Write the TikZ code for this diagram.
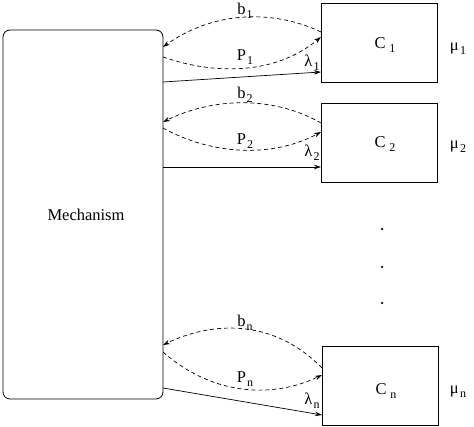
\documentclass[tikz,border=0pt]{standalone}
\usepackage{fontspec}
\setmainfont{Liberation Serif}
\usetikzlibrary{arrows.meta}
\newcommand{\sbs}[1]{\kern1.2pt\raisebox{-0.55ex}{\fontsize{12}{12}\selectfont #1}}
\begin{document}
\begin{tikzpicture}[x=1pt,y=-1pt,
  box/.style={draw,line width=0.8pt,minimum width=116pt,minimum height=79pt,inner sep=0pt},
  lbl/.style={font=\fontsize{16.5}{16.5}\selectfont,inner sep=0pt},
  conn/.style={line width=0.7pt,-{Stealth[length=7pt,width=4.5pt]}},
  dsh/.style={conn,dash pattern=on 4pt off 3pt},
  dotnode/.style={circle,fill,inner sep=0pt,minimum size=2.5pt}]
\useasboundingbox (0,0) rectangle (474,427);
% Mechanism
\node[draw,line width=0.8pt,rounded corners=7pt,minimum width=160pt,minimum height=369pt,inner sep=0pt] (M) at (83,214.5) {};
\node[lbl] (Mt) at (86,215) {Mechanism};
% C boxes
\node[box] (C1) at (379,42.5) {};
\node[box] (C2) at (379,142.5) {};
\node[box] (Cn) at (380,385.5) {};
\node[lbl] (C1t) at (385,45) {C\,\sbs{1}};
\node[lbl] (C2t) at (385,144) {C\,\sbs{2}};
\node[lbl] (Cnt) at (386,391) {C\,\sbs{n}};
\node[lbl] (mu1) at (458,49) {μ\sbs{1}};
\node[lbl] (mu2) at (458,147) {μ\sbs{2}};
\node[lbl] (mun) at (458,392) {μ\sbs{n}};
% dots
\node[dotnode] (d1) at (382,229) {};
\node[dotnode] (d2) at (382,267) {};
\node[dotnode] (d3) at (382,303) {};
% endpoints
\coordinate (c1b) at (321,32);  \coordinate (m1b) at (163,47);
\coordinate (m1p) at (163,57);  \coordinate (c1p) at (321,37);
\coordinate (m1l) at (163,82);  \coordinate (c1l) at (321,72);
\coordinate (c2b) at (321,123); \coordinate (m2b) at (163,122);
\coordinate (m2p) at (163,128); \coordinate (c2p) at (321,132);
\coordinate (m2l) at (163,167); \coordinate (c2l) at (321,167);
\coordinate (cnb) at (322,368); \coordinate (mnb) at (163,345);
\coordinate (mnp) at (163,352); \coordinate (cnp) at (322,375);
\coordinate (mnl) at (163,388); \coordinate (cnl) at (322,415);
% set 1
\draw[dsh] (c1b) .. controls (275,10) and (215,10) .. (m1b);
\draw[dsh] (m1p) .. controls (215,75) and (275,75) .. (c1p);
\draw[conn] (m1l) -- (c1l);
\node[lbl] (b1) at (245,11) {b\sbs{1}};
\node[lbl] (P1) at (245,57) {P\sbs{1}};
\node[lbl] (l1) at (312,63) {λ\sbs{1}};
% set 2
\draw[dsh] (c2b) .. controls (275,96.5) and (215,96.5) .. (m2b);
\draw[dsh] (m2p) .. controls (215,156.7) and (275,156.7) .. (c2p);
\draw[conn] (m2l) -- (c2l);
\node[lbl] (b2) at (245,95) {b\sbs{2}};
\node[lbl] (P2) at (245,141) {P\sbs{2}};
\node[lbl] (l2) at (312,153) {λ\sbs{2}};
% set n
\draw[dsh] (cnb) .. controls (275,320) and (215,320) .. (mnb);
\draw[dsh] (mnp) .. controls (215,397.5) and (275,397.5) .. (cnp);
\draw[conn] (mnl) -- (cnl);
\node[lbl] (bn) at (245,323) {b\sbs{n}};
\node[lbl] (Pn) at (245,379) {P\sbs{n}};
\node[lbl] (ln) at (312,401) {λ\sbs{n}};
\end{tikzpicture}
\end{document}
